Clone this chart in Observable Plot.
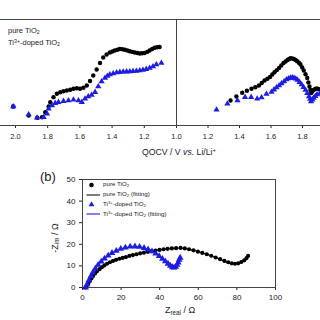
<!DOCTYPE html>
<html><head><meta charset="utf-8">
<script src="https://cdn.jsdelivr.net/npm/d3@7"></script>
<script src="https://cdn.jsdelivr.net/npm/@observablehq/plot@0.6"></script>
<style>
body{margin:0;background:#fff;}
#c{position:relative;width:320px;height:320px;overflow:hidden;background:#fff;font-family:Arial,"Liberation Sans",sans-serif;color:#222;}
#c svg{position:absolute;overflow:visible;}
.t{position:absolute;white-space:nowrap;line-height:1;}
.t sub{font-size:70%;vertical-align:-0.25em;line-height:0;}
.t sup{font-size:70%;vertical-align:0.45em;line-height:0;}
</style></head>
<body><div id="c"></div>
<script>
// ---------- panel (a): QOCV profiles ----------
const aLeftTicks = [2.0, 1.8, 1.6, 1.4, 1.2];
const aRightTicks = [1.0, 1.2, 1.4, 1.6, 1.8];
const pureLeft = [[2.014,19],[1.918,10],[1.864,7.7],[1.835,8.3],[1.815,13.3],[1.794,19],[1.784,23.3],[1.764,28.3],[1.743,31.7],[1.722,33.3],[1.702,34.3],[1.681,35],[1.660,35.7],[1.640,36.7],[1.619,37.3],[1.599,36.7],[1.578,37.7],[1.557,40],[1.537,44.5],[1.517,50],[1.496,56],[1.475,62.5],[1.455,68],[1.434,71],[1.414,73],[1.398,74],[1.383,75],[1.367,75.8],[1.352,76.5],[1.336,76.2],[1.321,75.7],[1.305,75],[1.290,74.3],[1.274,73.6],[1.259,73],[1.243,72.5],[1.228,72],[1.213,72.3],[1.198,72.5],[1.182,73.6],[1.167,75],[1.151,76.5],[1.136,77.7],[1.120,78.2],[1.105,78.5]];
const dopedLeft = [[2.014,19],[1.918,11],[1.866,7.7],[1.825,8.3],[1.804,11.7],[1.794,16.7],[1.773,20],[1.753,22.3],[1.733,23.3],[1.702,24.3],[1.671,25],[1.640,25.7],[1.609,25],[1.588,23.3],[1.568,26.7],[1.548,29],[1.527,30.5],[1.506,33.3],[1.486,39],[1.465,44],[1.444,47.5],[1.429,49.5],[1.414,51],[1.393,52],[1.372,53],[1.352,53.4],[1.331,53.7],[1.310,53.8],[1.290,54],[1.270,54.2],[1.249,54.5],[1.228,55],[1.208,55.5],[1.188,56.4],[1.167,57.5],[1.146,59],[1.125,61],[1.094,62.5]];
const pureRight = [[1.343,25],[1.380,29],[1.417,32.7],[1.447,34.7],[1.476,36.7],[1.500,38.3],[1.523,40],[1.541,42.5],[1.559,45],[1.577,46.8],[1.594,48.5],[1.608,51],[1.622,53.3],[1.637,55.4],[1.651,57.5],[1.665,60],[1.679,62.5],[1.692,64],[1.705,65.5],[1.715,66.5],[1.724,67.3],[1.735,67],[1.745,66.5],[1.756,65.5],[1.766,64.3],[1.777,62.8],[1.787,61],[1.798,58],[1.808,55],[1.819,51.3],[1.830,47.5],[1.837,43],[1.844,39],[1.850,35.5],[1.855,32.5],[1.862,34],[1.870,35.5],[1.880,36.5],[1.889,37],[1.900,36.5],[1.910,36]];
const dopedRight = [[1.254,15.7],[1.323,21.7],[1.387,25],[1.435,28.3],[1.474,28.3],[1.512,26.7],[1.540,28],[1.571,31.5],[1.603,33.5],[1.619,35.8],[1.635,38],[1.651,40],[1.667,42],[1.683,44],[1.698,46],[1.711,47],[1.724,47.7],[1.735,47.8],[1.746,47.5],[1.757,46.7],[1.768,45.5],[1.781,43.3],[1.794,41],[1.806,38.2],[1.819,35.5],[1.830,32.2],[1.841,29],[1.848,26.5],[1.854,24],[1.862,25.8],[1.870,27.5],[1.881,29.3],[1.892,31],[1.910,32]];

// ---------- panel (b): Nyquist plots ----------
const zTicksX = [0, 20, 40, 60, 80, 100];
const zTicksY = [0, 10, 20, 30, 40, 50];
const pureEIS = [[1.5,0],[2.2,0.8],[3.0,1.8],[3.8,3.0],[4.6,4.2],[5.5,5.3],[6.5,6.5],[7.6,7.6],[8.8,8.5],[10.0,9.4],[11.3,10.2],[12.7,11.0],[14.2,11.7],[15.8,12.3],[17.4,12.8],[19.1,13.3],[20.8,13.7],[22.5,14.1],[24.3,14.6],[26.1,15.0],[28.0,15.4],[29.9,15.8],[31.8,16.1],[33.8,16.5],[35.8,16.8],[37.8,17.1],[39.9,17.4],[42.0,17.7],[44.1,17.9],[46.3,18.1],[48.5,18.2],[50.8,18.3],[53.0,18.1],[55.2,17.7],[57.5,17.2],[59.8,16.6],[62.1,16.0],[64.4,15.4],[66.7,14.7],[69.0,13.9],[71.3,13.1],[73.5,12.3],[75.5,11.7],[77.3,11.2],[79.0,11.0],[80.7,11.2],[82.3,11.8],[83.8,12.6],[85.0,13.6],[85.8,14.6]];
const pureFit = [[1.5,0],[3.0,1.8],[5.5,5.3],[8.8,8.5],[12.7,11.0],[17.4,12.8],[22.5,14.1],[28.0,15.4],[33.8,16.5],[39.9,17.4],[46.3,18.1],[50.8,18.3],[55.2,17.7],[59.8,16.6],[64.4,15.4],[69.0,13.9],[73.5,12.3],[77.3,11.2],[79.0,11.0],[80.7,11.2],[83.8,12.6],[85.8,14.6]];
const dopedEIS = [[1.6,0],[2.4,1.5],[3.3,3.3],[4.3,5.2],[5.4,7.0],[6.7,8.8],[8.1,10.5],[9.7,12.0],[11.4,13.4],[13.3,14.8],[15.3,16.0],[17.5,17.0],[19.8,17.9],[22.2,18.5],[24.7,18.9],[27.2,19.0],[29.6,18.8],[31.9,18.3],[34.0,17.6],[36.0,16.7],[37.9,15.7],[39.7,14.5],[41.4,13.3],[42.9,12.1],[44.3,11.0],[45.5,10.1],[46.6,9.4],[47.5,9.2],[48.3,9.6],[49.0,10.5],[49.6,11.6],[50.1,12.8],[50.6,13.8]];
const dopedFit = [[1.6,0],[3.3,3.3],[5.4,7.0],[8.1,10.5],[11.4,13.4],[15.3,16.0],[19.8,17.9],[24.7,18.9],[29.6,18.8],[34.0,17.6],[37.9,15.7],[41.4,13.3],[44.3,11.0],[46.6,9.4],[47.5,9.2],[48.3,9.6],[49.6,11.6],[50.6,13.8]];

const BLUE = "#1c1ce6";
const AX = "#444";
const c = document.getElementById("c");
const baseStyle = {fontSize:"7.5px", fontFamily:"Arial, 'Liberation Sans', sans-serif", color:"#222", background:"transparent", overflow:"visible"};

function place(el, left, top){ el.style.left = left+"px"; el.style.top = top+"px"; c.appendChild(el); }
function text(html, left, top, size, extra){
  const d = document.createElement("div"); d.className="t"; d.innerHTML = html;
  d.style.left=left+"px"; d.style.top=top+"px"; d.style.fontSize=size+"px";
  if (extra) Object.assign(d.style, extra);
  c.appendChild(d); return d;
}

// top-left
const pa = Plot.plot({
  width:178, height:160, marginLeft:0, marginRight:2, marginTop:19, marginBottom:35,
  style: baseStyle,
  x:{domain:[1.0, 2.093], reverse:true, ticks:aLeftTicks, tickFormat:d3.format(".1f"), label:null, tickSize:3, tickPadding:5},
  y:{domain:[0,106], axis:null},
  marks:[
    Plot.ruleY([0,106], {stroke:AX}),
    Plot.ruleX([1.0], {stroke:AX}),
    Plot.dot(pureLeft, {x:d=>d[0], y:d=>d[1], r:2.2, fill:"black", stroke:"none"}),
    Plot.dot(dopedLeft, {x:d=>d[0], y:d=>d[1], r:2.3, symbol:"triangle", fill:BLUE, stroke:"none"}),
    Plot.dot(dopedLeft.slice(0,1), {x:d=>d[0], y:d=>d[1], r:2.3, fill:BLUE, stroke:"none"})
  ]
});
place(pa, 0, 0);

// top-right
const pb = Plot.plot({
  width:146, height:160, marginLeft:2, marginRight:0, marginTop:19, marginBottom:35,
  style: baseStyle,
  x:{domain:[1.0, 1.914], ticks:aRightTicks, tickFormat:d3.format(".1f"), label:null, tickSize:3, tickPadding:5},
  y:{domain:[0,106], axis:null},
  marks:[
    Plot.ruleY([0,106], {stroke:AX}),
    Plot.ruleX([1.0], {stroke:AX}),
    Plot.dot(pureRight, {x:d=>d[0], y:d=>d[1], r:2.2, fill:"black", stroke:"none"}),
    Plot.dot(dopedRight, {x:d=>d[0], y:d=>d[1], r:2.3, symbol:"triangle", fill:BLUE, stroke:"none"})
  ]
});
place(pb, 174, 0);

text("pure TiO<sub>2</sub>", 8, 27, 7.5);
text("Ti<sup>3+</sup>-doped TiO<sub>2</sub>", 8, 39, 7.5);
text("QOCV / V <i>vs.</i> Li/Li<sup>+</sup>", 142, 148, 8.7);

// bottom
const pc = Plot.plot({
  width:320, height:160, marginLeft:82, marginRight:45, marginTop:19, marginBottom:33,
  style: {...baseStyle, fontSize:"8px"},
  x:{domain:[0,100], ticks:zTicksX, label:null, tickSize:3, tickPadding:4},
  y:{domain:[0,50], ticks:zTicksY, label:null, tickSize:3, tickPadding:4},
  marks:[
    Plot.frame({stroke:AX}),
    Plot.line(pureFit, {x:d=>d[0], y:d=>d[1], stroke:"#111", strokeWidth:1.1, curve:"catmull-rom"}),
    Plot.line(dopedFit, {x:d=>d[0], y:d=>d[1], stroke:BLUE, strokeWidth:1.1, curve:"catmull-rom"}),
    Plot.dot(pureEIS, {x:d=>d[0], y:d=>d[1], r:2.1, fill:"black", stroke:"none"}),
    Plot.dot(dopedEIS, {x:d=>d[0], y:d=>d[1], r:2.5, symbol:"triangle", fill:BLUE, stroke:"none"})
  ]
});
place(pc, 0, 160);

text("(b)", 40, 170, 13);
text("-Z<sub>im</sub> / Ω", 55, 238, 9, {transform:"translate(-50%,-50%) rotate(-90deg)"});
text("Z<sub>real</sub> / Ω", 165, 306, 9);

// legend for (b)
const legendRows = [
  {html:"pure TiO<sub>2</sub>", kind:"circle", color:"black"},
  {html:"pure TiO<sub>2</sub> (fitting)", kind:"line", color:"#111"},
  {html:"Ti<sup>3+</sup>-doped TiO<sub>2</sub>", kind:"triangle", color:BLUE},
  {html:"Ti<sup>3+</sup>-doped TiO<sub>2</sub> (fitting)", kind:"line", color:BLUE}
];
legendRows.forEach((r,i)=>{
  const y = 184.7 + i*9.8;
  const s = document.createElementNS("http://www.w3.org/2000/svg","svg");
  s.setAttribute("width",16); s.setAttribute("height",8);
  s.style.left="85px"; s.style.top=(y-4)+"px";
  let el;
  if (r.kind==="circle"){ el=document.createElementNS(s.namespaceURI,"circle"); el.setAttribute("cx",6.5); el.setAttribute("cy",4); el.setAttribute("r",2.3); el.setAttribute("fill",r.color); }
  else if (r.kind==="triangle"){ el=document.createElementNS(s.namespaceURI,"path"); el.setAttribute("d","M6.5,1.2L9.4,6.2L3.6,6.2Z"); el.setAttribute("fill",r.color); }
  else { el=document.createElementNS(s.namespaceURI,"line"); el.setAttribute("x1",1.5); el.setAttribute("x2",15); el.setAttribute("y1",4); el.setAttribute("y2",4); el.setAttribute("stroke",r.color); el.setAttribute("stroke-width",1.1); }
  s.appendChild(el); c.appendChild(s);
  text(r.html, 103, y-3.3, 6.2);
});
</script></body></html>
